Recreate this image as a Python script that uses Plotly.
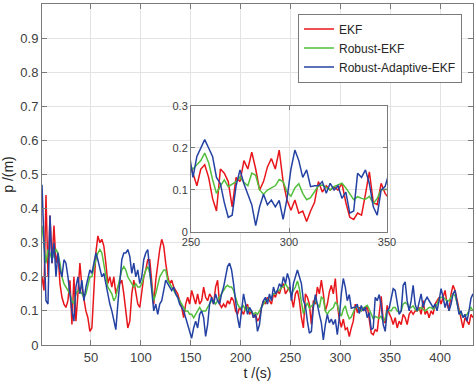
import plotly.graph_objects as go

t = list(range(1, 434, 2))

ekf = [
    0.20, 0.16, 0.44, 0.20, 0.38, 0.24, 0.35, 0.24, 0.27, 0.18,
    0.14, 0.12, 0.11, 0.13, 0.19, 0.06, 0.20, 0.07, 0.15, 0.24,
    0.17, 0.13, 0.10, 0.08, 0.04, 0.05, 0.15, 0.27, 0.32, 0.30,
    0.31, 0.29, 0.24, 0.18, 0.20, 0.17, 0.20, 0.15, 0.17, 0.18,
    0.19, 0.15, 0.10, 0.05, 0.07, 0.15, 0.19, 0.15, 0.12, 0.11,
    0.15, 0.20, 0.22, 0.25, 0.25, 0.17, 0.12, 0.19, 0.24, 0.28,
    0.31, 0.29, 0.24, 0.20, 0.18, 0.19, 0.17, 0.16, 0.15, 0.13,
    0.11, 0.08, 0.12, 0.14, 0.12, 0.16, 0.14, 0.12, 0.15, 0.12,
    0.13, 0.17, 0.14, 0.13, 0.15, 0.14, 0.12, 0.17, 0.19, 0.12,
    0.11, 0.12, 0.11, 0.13, 0.12, 0.14, 0.13, 0.10, 0.09, 0.11,
    0.10, 0.09, 0.11, 0.12, 0.09, 0.10, 0.08, 0.09, 0.07, 0.08,
    0.11, 0.13, 0.12, 0.14, 0.13, 0.12, 0.15, 0.14, 0.16, 0.15,
    0.17, 0.18, 0.15, 0.16, 0.17, 0.14, 0.11, 0.15, 0.16, 0.13,
    0.08, 0.05, 0.15, 0.14, 0.12, 0.06, 0.13, 0.12, 0.17, 0.15,
    0.19, 0.15, 0.10, 0.12, 0.155, 0.175, 0.15, 0.195, 0.12, 0.076,
    0.052, 0.076, 0.045, 0.05, 0.025, 0.05, 0.07, 0.12, 0.095, 0.11,
    0.10, 0.108, 0.10, 0.116, 0.07, 0.035, 0.03, 0.045, 0.04, 0.09,
    0.143, 0.07, 0.065, 0.116, 0.092, 0.08, 0.06, 0.08, 0.05, 0.07,
    0.06, 0.09, 0.08, 0.06, 0.09, 0.10, 0.09, 0.10, 0.10, 0.11,
    0.09, 0.13, 0.09, 0.10, 0.08, 0.10, 0.09, 0.12, 0.13, 0.14,
    0.12, 0.14, 0.16, 0.12, 0.10, 0.15, 0.175, 0.16, 0.13, 0.10,
    0.07, 0.05, 0.08, 0.07, 0.06, 0.09, 0.08,
]

robust_ekf = [
    0.35, 0.30, 0.24, 0.28, 0.27, 0.25, 0.27, 0.28, 0.27, 0.24,
    0.20, 0.18, 0.17, 0.16, 0.15, 0.13, 0.12, 0.15, 0.16, 0.16,
    0.15, 0.14, 0.15, 0.18, 0.20, 0.20, 0.23, 0.25, 0.27, 0.28,
    0.27, 0.24, 0.21, 0.17, 0.16, 0.15, 0.13, 0.14, 0.17, 0.20,
    0.22, 0.23, 0.22, 0.20, 0.19, 0.18, 0.17, 0.18, 0.17, 0.17,
    0.18, 0.20, 0.22, 0.23, 0.21, 0.17, 0.13, 0.15, 0.18, 0.20,
    0.21, 0.22, 0.22, 0.19, 0.18, 0.17, 0.16, 0.15, 0.14, 0.13,
    0.12, 0.11, 0.10, 0.10, 0.09, 0.09, 0.08, 0.09, 0.10, 0.11,
    0.10, 0.10, 0.10, 0.11, 0.12, 0.13, 0.13, 0.12, 0.13, 0.14,
    0.15, 0.16, 0.17, 0.175, 0.17, 0.17, 0.16, 0.14, 0.12, 0.11,
    0.11, 0.115, 0.10, 0.11, 0.10, 0.10, 0.09, 0.095, 0.09, 0.10,
    0.11, 0.12, 0.13, 0.13, 0.14, 0.14, 0.15, 0.15, 0.16, 0.16,
    0.17, 0.17, 0.18, 0.17, 0.16, 0.15, 0.16, 0.17, 0.188, 0.165,
    0.125, 0.092, 0.11, 0.124, 0.108, 0.115, 0.12, 0.131, 0.118, 0.11,
    0.14, 0.135, 0.10, 0.09, 0.10, 0.105, 0.11, 0.125, 0.12, 0.095,
    0.085, 0.105, 0.115, 0.092, 0.077, 0.082, 0.095, 0.11, 0.112, 0.105,
    0.10, 0.108, 0.112, 0.116, 0.105, 0.092, 0.077, 0.084, 0.08, 0.078,
    0.085, 0.068, 0.08, 0.10, 0.102, 0.10, 0.11, 0.11, 0.10, 0.095,
    0.10, 0.12, 0.125, 0.12, 0.11, 0.11, 0.115, 0.105, 0.10, 0.105,
    0.11, 0.105, 0.10, 0.105, 0.11, 0.11, 0.105, 0.11, 0.12, 0.135,
    0.14, 0.14, 0.135, 0.13, 0.13, 0.14, 0.15, 0.145, 0.12, 0.10,
    0.09, 0.085, 0.085, 0.09, 0.10, 0.11, 0.10,
]

robust_adaptive_ekf = [
    0.47, 0.30, 0.13, 0.12, 0.38, 0.24, 0.30, 0.20, 0.27, 0.22,
    0.20, 0.25, 0.24, 0.20, 0.15, 0.10, 0.07, 0.17, 0.20, 0.15,
    0.19, 0.13, 0.17, 0.20, 0.22, 0.21, 0.24, 0.27, 0.25, 0.22,
    0.20, 0.21, 0.18, 0.14, 0.12, 0.10, 0.07, 0.045, 0.12, 0.20,
    0.25, 0.27, 0.27, 0.28, 0.26, 0.21, 0.24, 0.20, 0.22, 0.18,
    0.20, 0.25, 0.27, 0.28, 0.22, 0.16, 0.10, 0.12, 0.09, 0.12,
    0.13, 0.16, 0.19, 0.18, 0.17, 0.16, 0.17, 0.15, 0.14, 0.12,
    0.11, 0.10, 0.08, 0.06, 0.04, 0.02, 0.05, 0.07, 0.05, 0.09,
    0.10, 0.08, 0.025, 0.06, 0.12, 0.14, 0.12, 0.15, 0.13, 0.12,
    0.15, 0.17, 0.20, 0.23, 0.24, 0.22, 0.18, 0.13, 0.08, 0.05,
    0.10, 0.15, 0.12, 0.09, 0.11, 0.10, 0.08, 0.09, 0.04, 0.06,
    0.11, 0.13, 0.14, 0.12, 0.15, 0.13, 0.17, 0.15, 0.16, 0.18,
    0.17, 0.20, 0.18, 0.21, 0.19, 0.13, 0.18, 0.20, 0.22, 0.20,
    0.18, 0.13, 0.115, 0.07, 0.035, 0.04, 0.11, 0.148, 0.115, 0.09,
    0.065, 0.015, 0.06, 0.09, 0.065, 0.076, 0.06, 0.075, 0.03, 0.08,
    0.15, 0.195, 0.17, 0.13, 0.148, 0.108, 0.11, 0.11, 0.12, 0.092,
    0.116, 0.10, 0.11, 0.08, 0.095, 0.045, 0.05, 0.14, 0.13, 0.148,
    0.115, 0.06, 0.04, 0.10, 0.108, 0.14, 0.165, 0.16, 0.12, 0.09,
    0.10, 0.175, 0.185, 0.13, 0.10, 0.13, 0.175, 0.12, 0.10, 0.13,
    0.15, 0.11, 0.13, 0.14, 0.13, 0.12, 0.11, 0.12, 0.10, 0.13,
    0.165, 0.14, 0.11, 0.13, 0.10, 0.12, 0.15, 0.16, 0.13, 0.09,
    0.10, 0.08, 0.09, 0.07, 0.10, 0.137, 0.15,
]

series_names = ["EKF", "Robust-EKF", "Robust-Adaptive-EKF"]
series_values = [ekf, robust_ekf, robust_adaptive_ekf]
series_colors = ["#e8161b", "#52bf3c", "#2442a3"]

x_ticks = [50, 100, 150, 200, 250, 300, 350, 400]
inset_x_ticks = [250, 300, 350]
inset_y_ticks = [0, 0.1, 0.2, 0.3]

assert all(len(v) == len(t) for v in series_values)

fig = go.Figure()

for name, vals, col in zip(series_names, series_values, series_colors):
    fig.add_trace(go.Scatter(x=t, y=vals, mode="lines", name=name,
                             line=dict(color=col, width=1.5),
                             xaxis="x", yaxis="y"))

for name, vals, col in zip(series_names, series_values, series_colors):
    fig.add_trace(go.Scatter(x=t, y=vals, mode="lines", name=name,
                             line=dict(color=col, width=1.5),
                             xaxis="x2", yaxis="y2", showlegend=False))

axis_col = "#7a7a7a"
grid_col = "#e3e3e3"
FONT = "Liberation Sans, Arial"
tick_font = dict(family=FONT, size=13, color="#404040")
small_font = dict(family=FONT, size=11, color="#404040")

fig.update_layout(
    width=474, height=387,
    margin=dict(l=42, r=1, t=4, b=42),
    paper_bgcolor="white", plot_bgcolor="#ffffff",
    font=tick_font,
    showlegend=True,
    legend=dict(x=0.9745, y=0.972, xanchor="right", yanchor="top",
                bgcolor="white", bordercolor="#7a7a7a", borderwidth=1,
                font=dict(family=FONT, size=12, color="#262626"),
                tracegroupgap=0),
    xaxis=dict(range=[1, 433], tickvals=x_ticks, ticks="inside", ticklen=5,
               tickcolor=axis_col, showline=True, linecolor=axis_col, linewidth=1,
               mirror="ticks", showgrid=True, gridcolor=grid_col, zeroline=False,
               tickfont=tick_font, automargin=False,
               title=dict(text="t /(s)", standoff=4,
                          font=dict(family=FONT, size=14, color="#262626"))),
    yaxis=dict(range=[0, 1], dtick=0.1, ticks="inside", ticklen=5,
               tickcolor=axis_col, showline=True, linecolor=axis_col, linewidth=1,
               mirror="ticks", showgrid=True, gridcolor=grid_col, zeroline=False,
               tickfont=tick_font, automargin=False,
               title=dict(text="p /(m)", standoff=6,
                          font=dict(family=FONT, size=14, color="#262626"))),
    xaxis2=dict(domain=[0.3457, 0.8005], anchor="y2", range=[250, 350],
                tickvals=inset_x_ticks, ticks="inside", ticklen=4,
                tickcolor=axis_col, showline=True, linecolor=axis_col, linewidth=1,
                mirror="ticks", showgrid=True, gridcolor=grid_col, zeroline=False,
                tickfont=small_font, automargin=False),
    yaxis2=dict(domain=[0.3314, 0.7009], anchor="x2", range=[0, 0.3],
                tickvals=inset_y_ticks, ticktext=["0", "0.1", "0.2", "0.3"],
                ticks="inside", ticklen=4,
                tickcolor=axis_col, showline=True, linecolor=axis_col, linewidth=1,
                mirror="ticks", showgrid=True, gridcolor=grid_col, zeroline=False,
                tickfont=small_font, automargin=False),
)

fig.write_html("out.html",
               config={"displayModeBar": False},
               post_script="document.body.style.margin='0';document.body.style.padding='0';")
